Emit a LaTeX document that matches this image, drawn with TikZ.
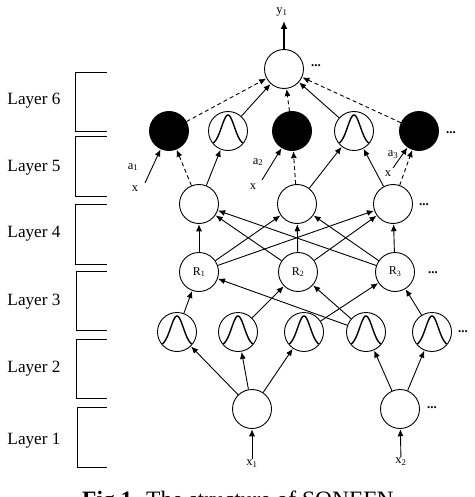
\documentclass[tikz,border=0pt]{standalone}
\usepackage{fontspec}
\setmainfont{Liberation Serif}
\usetikzlibrary{arrows.meta}
\begin{document}
\begin{tikzpicture}[x=1pt,y=-1pt,
  neuron/.style={circle,draw,line width=0.9pt,minimum size=39pt,inner sep=0pt,font=\fontsize{12}{12}\selectfont},
  blk/.style={neuron,fill=black},
  conn/.style={line width=0.9pt,-{Latex[length=7pt,width=6pt]},shorten >=0.3pt},
  dconn/.style={conn,dash pattern=on 4pt off 3pt},
  outarrow/.style={line width=1.6pt,-{Latex[length=8pt,width=7pt]}},
  lbl/.style={font=\fontsize{12.5}{12.5}\selectfont,inner sep=1pt},
  lay/.style={font=\fontsize{17.2}{17.2}\selectfont,inner sep=0pt},
  brk/.style={line width=0.9pt},
  dotsl/.style={font=\fontsize{13}{13}\selectfont\bfseries,inner sep=0pt},
  captext/.style={font=\fontsize{23.5}{23.5}\selectfont,inner sep=0pt},
  curve/.style={line width=1.4pt}
]
\clip (0,0) rectangle (474,497);
\useasboundingbox (0,0) rectangle (474,497);

% layer brackets
\foreach \t/\b/\xv in {72/131/75, 136/196/75, 204/264/75, 271/330/76, 339/398/76, 407/467/77}{
  \draw[brk] (107,\t) -- (\xv,\t) -- (\xv,\b) -- (107,\b);
}
\node[lay] (l6) at (34,101) {Layer 6};
\node[lay] (l5) at (34,168) {Layer 5};
\node[lay] (l4) at (34,234) {Layer 4};
\node[lay] (l3) at (34,302) {Layer 3};
\node[lay] (l2) at (34,369) {Layer 2};
\node[lay] (l1) at (34,441) {Layer 1};

% nodes
\node[neuron] (out) at (284,69) {};
\node[blk] (b1) at (169,131) {};
\node[neuron] (q1) at (228,131) {};
\node[blk] (b2) at (292,131) {};
\node[neuron] (q2) at (354,131) {};
\node[blk] (b3) at (419,131) {};
\node[neuron] (h1) at (199,204) {};
\node[neuron] (h2) at (297,204) {};
\node[neuron] (h3) at (393,204) {};
\node[neuron] (r1) at (199,272) {R\textsubscript{1}};
\node[neuron] (r2) at (298,272) {R\textsubscript{2}};
\node[neuron] (r3) at (395,272) {R\textsubscript{3}};
\node[neuron] (g1) at (177,332) {};
\node[neuron] (g2) at (238,332) {};
\node[neuron] (g3) at (304,332) {};
\node[neuron] (g4) at (366,332) {};
\node[neuron] (g5) at (432,332) {};
\node[neuron] (i1) at (252,409) {};
\node[neuron] (i2) at (400,409) {};

% gaussian curves
\foreach \n in {q1,q2,g1,g2,g3,g4,g5}{
  \begin{scope}
    \clip (\n.center) circle (19pt);
    \draw[curve,shift={(\n.center)}] plot[domain=-20:20,samples=51,smooth] (\x,{14-30*exp(-(\x/9)^2)});
  \end{scope}
}

% dots
\node[dotsl] (d6) at (316,66) {...};
\node[dotsl] (d5) at (451,133) {...};
\node[dotsl] (d4) at (424,205) {...};
\node[dotsl] (d3) at (433,273) {...};
\node[dotsl] (d2) at (463,332) {...};
\node[dotsl] (d1) at (432,408) {...};

% labels
\node[lbl] (y1) at (282,12) {y\textsubscript{1}};
\coordinate (ytip) at (284,21);
\node[lbl] (x1) at (252,464) {x\textsubscript{1}};
\node[lbl] (x2) at (401,462) {x\textsubscript{2}};
\node[lbl,inner sep=0pt] (a1) at (133,167) {a\textsubscript{1}};
\node[lbl,inner sep=0pt] (a2) at (258,162) {a\textsubscript{2}};
\node[lbl,inner sep=0pt] (a3) at (393,155) {a\textsubscript{3}};
\node[lbl,inner sep=0pt] (xa) at (135,189) {x};
\node[lbl,inner sep=0pt] (xb) at (253,187) {x};
\node[lbl,inner sep=0pt] (xc) at (388,174) {x};
\coordinate (sa) at (145,183);
\coordinate (sb) at (262,180);
\coordinate (sc) at (393,168);

% output
\draw[outarrow] (out) -- (ytip);

% layer 6 inputs
\draw[dconn] (b1) -- (out);
\draw[conn] (q1) -- (out);
\draw[dconn] (b2) -- (out);
\draw[conn] (q2) -- (out);
\draw[dconn] (b3) -- (out);

% layer 5 inputs
\draw[conn] (sa) -- (b1);
\draw[conn] (sb) -- (b2);
\draw[conn] (sc) -- (b3);
\draw[dconn] (h1) -- (b1);
\draw[conn] (h1) -- (q1);
\draw[dconn] (h2) -- (b2);
\draw[conn] (h2) -- (q2);
\draw[conn] (h3) -- (q2);
\draw[dconn] (h3) -- (b3);

% layer 4 inputs (full)
\foreach \r in {r1,r2,r3}{
  \foreach \h in {h1,h2,h3}{
    \draw[conn] (\r) -- (\h);
  }
}

% layer 3 inputs
\draw[conn] (g1) -- (r1);
\draw[conn] (g2) -- (r2);
\draw[conn] (g3) -- (r3);
\draw[conn] (g4) -- (r1);
\draw[conn] (g4) -- (r2);
\draw[conn] (g5) -- (r3);

% layer 2 inputs
\draw[conn] (i1) -- (g1);
\draw[conn] (i1) -- (g2);
\draw[conn] (i1) -- (g3);
\draw[conn] (i2) -- (g4);
\draw[conn] (i2) -- (g5);

% layer 1 inputs
\draw[conn] (x1) -- (i1);
\draw[conn] (x2) -- (i2);

% caption
\node[captext,anchor=base west] (caption) at (82,507.5) {\textbf{Fig.1.} The structure of SONEFN};
\end{tikzpicture}
\end{document}
